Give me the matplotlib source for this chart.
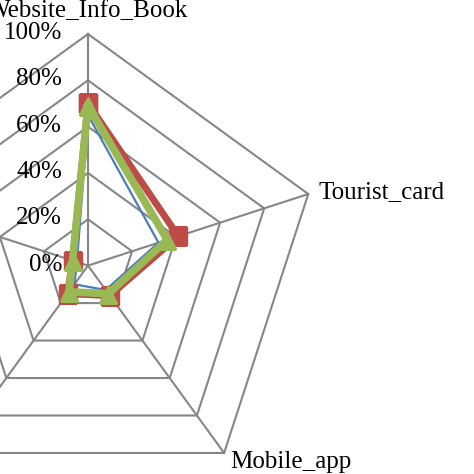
import numpy as np
import matplotlib
matplotlib.use("Agg")
from matplotlib import pyplot as plt

# categories clockwise from the top (last two are cut off in the picture)
categories = ["Website_Info_Book", "Tourist_card", "Mobile_app", "", ""]
levels = [0.0, 0.2, 0.4, 0.6, 0.8, 1.0]
level_labels = ["0%", "20%", "40%", "60%", "80%", "100%"]

series_blue = [0.65, 0.32, 0.13, 0.10, 0.05]
series_red = [0.70, 0.41, 0.16, 0.15, 0.07]
series_green = [0.69, 0.36, 0.15, 0.14, 0.07]

plt.rcParams['font.family'] = ['Liberation Serif', 'DejaVu Serif']

fig = plt.figure(figsize=(4.74, 4.74), dpi=100)
# centre of the radar sits near the left edge of the picture
cx, cy, rad = 88 / 474, (474 - 265.6) / 474, 231.6 / 474
ax = fig.add_axes([cx - rad, cy - rad, 2 * rad, 2 * rad], projection='polar')
ax.set_theta_offset(np.pi / 2)
ax.set_theta_direction(-1)
ax.set_ylim(0, 1)
ax.grid(False)
ax.spines['polar'].set_visible(False)
ax.set_xticks([])
ax.set_yticks([])
ax.patch.set_visible(False)

n = len(categories)
theta = np.linspace(0, 2 * np.pi, n, endpoint=False)
closed = np.append(theta, theta[0])

gc = '#868686'
for lv in levels[1:]:
    ax.plot(closed, [lv] * (n + 1), color=gc, lw=1.5, zorder=1, clip_on=False)
for t in theta:
    ax.plot([t, t], [0, 1], color=gc, lw=1.5, zorder=1, clip_on=False)

def close(v):
    return list(v) + [v[0]]

ax.plot(closed, close(series_blue), color='#4A7EBB', lw=1.6, zorder=3)
ax.plot(closed, close(series_red), color='#BE4B48', lw=5, marker='s',
        ms=13, zorder=4)
ax.plot(closed, close(series_green), color='#98B954', lw=5.5, marker='^',
        ms=12.5, zorder=5)

for lv, lab in zip(levels, level_labels):
    ax.annotate(lab, xy=(0, lv), xytext=(-26, 1), textcoords='offset pixels',
                ha='right', va='center', fontsize=18, annotation_clip=False)

offsets = [((0, 23), 'center', 'center'),
           ((10, 2), 'left', 'center'),
           ((6, -9), 'left', 'center'),
           ((-8, -9), 'right', 'center'),
           ((-10, 2), 'right', 'center')]
for t, lab, (off, ha, va) in zip(theta, categories, offsets):
    ax.annotate(lab, xy=(t, 1), xytext=off, textcoords='offset pixels',
                ha=ha, va=va, fontsize=18, annotation_clip=False)

fig.savefig("out.png", dpi=100)
